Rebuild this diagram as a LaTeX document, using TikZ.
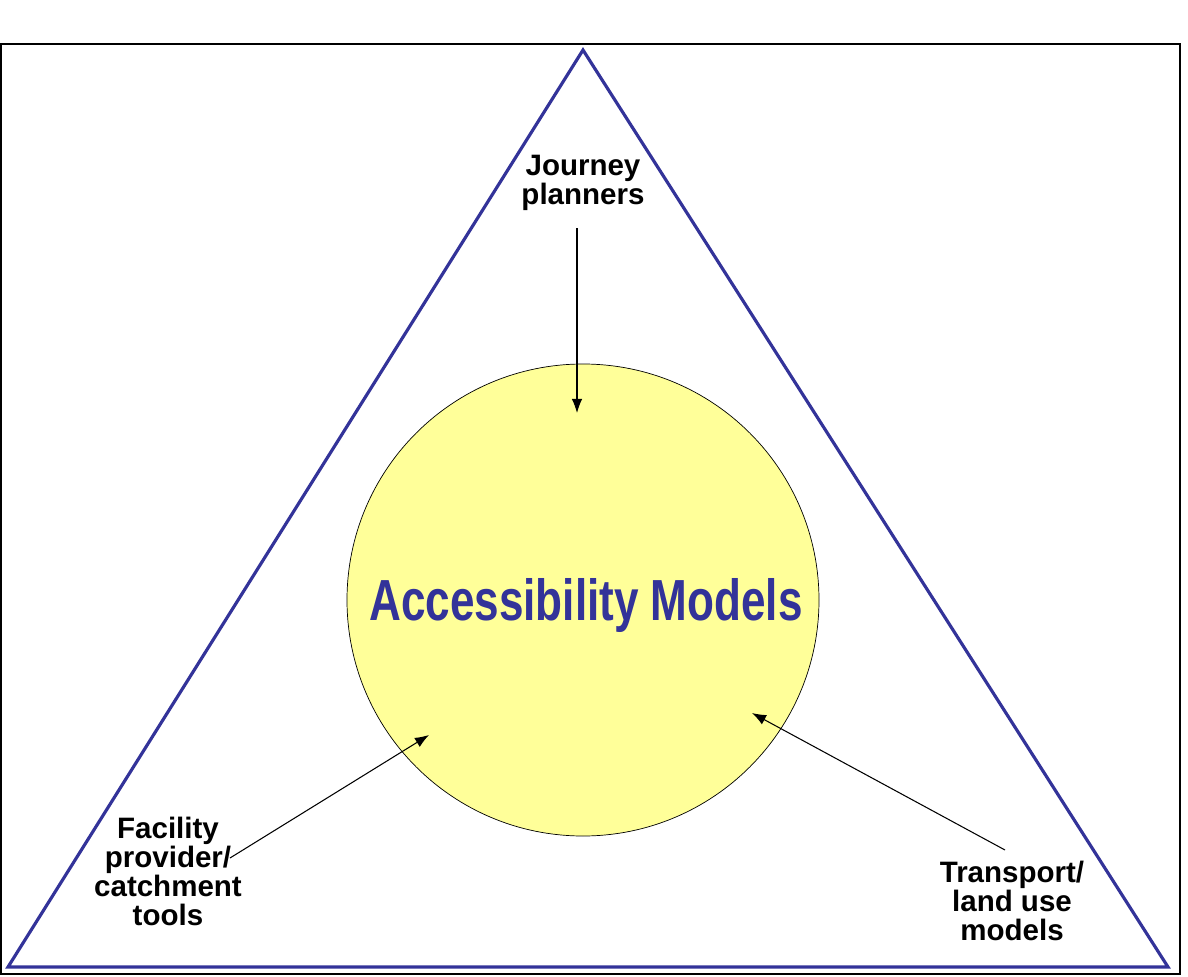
\documentclass[tikz,border=0pt]{standalone}
\usepackage{fontspec}
\usetikzlibrary{arrows.meta}
\setmainfont{Liberation Sans}
\definecolor{navy}{RGB}{51,51,153}
\definecolor{fillyel}{RGB}{255,255,153}
\begin{document}
\begin{tikzpicture}[x=0.02cm,y=-0.02cm,
  lbl/.style={font=\bfseries\fontsize{16.8}{16.5}\selectfont,align=center,inner sep=0},
  arr/.style={-{Latex[length=8pt,width=6pt]},line width=0.6pt}]
\useasboundingbox (0,0) rectangle (1188,977);
\draw[line width=1.6pt] (1,44) rectangle (1180,974);
\draw[navy,line width=1.8pt,line join=miter] (583,50) -- (8,967) -- (1168,967) -- cycle;
\node[circle,draw=black,fill=fillyel,minimum size=472*0.02cm,inner sep=0] (c) at (583,600) {};
\node[navy,font=\bfseries\fontsize{33}{33}\selectfont,xscale=0.76] (t) at (586,606) {Accessibility Models};
\node[lbl] (jp) at (583,183) {Journey\\planners};
\node[lbl] (fp) at (168,871) {Facility\\provider/\\catchment\\tools};
\node[lbl] (tl) at (1012,901) {Transport/\\land use\\models};
\coordinate (a1s) at (577,228); \coordinate (a1e) at (577,413);
\coordinate (a2s) at (230,858); \coordinate (a2e) at (429,735);
\coordinate (a3s) at (1005,850); \coordinate (a3e) at (752,713);
\draw[arr] (a1s) -- (a1e);
\draw[arr] (a2s) -- (a2e);
\draw[arr] (a3s) -- (a3e);
\end{tikzpicture}
\end{document}
